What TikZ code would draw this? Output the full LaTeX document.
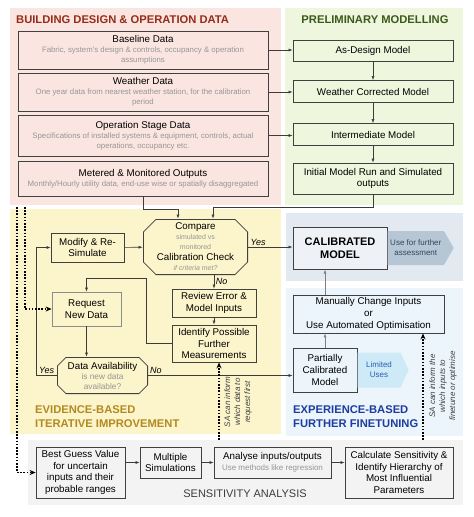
\documentclass[tikz,border=0pt]{standalone}
\usepackage{fontspec}
\setmainfont{Liberation Sans}
\usepackage{xcolor}
\usetikzlibrary{arrows.meta,shapes.symbols}

\definecolor{pinkbg}{RGB}{251,229,225}
\definecolor{greenbg}{RGB}{238,246,222}
\definecolor{yellowbg}{RGB}{252,244,203}
\definecolor{slatebg}{RGB}{226,233,240}
\definecolor{lightbluebg}{RGB}{235,245,251}
\definecolor{graybg}{RGB}{243,243,243}
\definecolor{calibfill}{RGB}{238,242,246}
\definecolor{usefill}{RGB}{182,198,213}
\definecolor{usetext}{RGB}{50,70,95}
\definecolor{limitedfill}{RGB}{206,234,246}
\definecolor{limitedtext}{RGB}{40,95,185}
\definecolor{subgray}{RGB}{150,150,150}
\definecolor{boxline}{RGB}{64,64,64}
\definecolor{arrowline}{RGB}{60,60,60}
\definecolor{bdred}{RGB}{150,45,25}
\definecolor{pmgreen}{RGB}{60,90,25}
\definecolor{ebgold}{RGB}{178,138,32}
\definecolor{exblue}{RGB}{30,60,160}
\definecolor{satitle}{RGB}{60,60,60}

\newcommand{\boxtitle}[1]{{\fontsize{9.8}{11.5}\selectfont #1}}
\newcommand{\subtxt}[1]{{\color{subgray}#1}}

\begin{document}
\begin{tikzpicture}[x=1pt,y=-1pt]
		\tikzstyle{box}=[draw=boxline, line width=0.8pt, align=center, inner sep=1pt, font=\fontsize{9.8}{11.5}\selectfont]
		\tikzstyle{data_box}=[box, fill=pinkbg, minimum width=250, font=\fontsize{7.8}{10}\selectfont]
		\tikzstyle{model_box}=[box, fill=greenbg, minimum width=160]
		\tikzstyle{step_box}=[box, fill=yellowbg]
		\tikzset{check_box/.style={step_box, draw=none, fill=none,
			path picture={\draw[fill=yellowbg, draw=boxline, line width=0.8pt]
				([xshift=#1, yshift=-0.4pt]path picture bounding box.north west) -- ([xshift=-#1, yshift=-0.4pt]path picture bounding box.north east)
				-- ([xshift=-0.4pt, yshift=-#1]path picture bounding box.north east) -- ([xshift=-0.4pt, yshift=#1]path picture bounding box.south east)
				-- ([xshift=-#1, yshift=0.4pt]path picture bounding box.south east) -- ([xshift=#1, yshift=0.4pt]path picture bounding box.south west)
				-- ([xshift=0.4pt, yshift=#1]path picture bounding box.south west) -- ([xshift=0.4pt, yshift=-#1]path picture bounding box.north west) -- cycle;}}}
		\tikzstyle{fine_box}=[box, fill=lightbluebg, font=\fontsize{9.8}{12}\selectfont]
		\tikzstyle{sa_box}=[box, fill=graybg, font=\fontsize{9.8}{11.5}\selectfont]
		\tikzstyle{use_arrow}=[signal, signal to=east, inner sep=0pt, align=center, font=\fontsize{8}{10}\selectfont]
		\tikzstyle{title_text}=[inner sep=0pt, align=left, font=\fontsize{11.2}{14}\selectfont\bfseries]
		\tikzstyle{sa_note}=[inner sep=0pt, align=center, rotate=90, text=boxline, font=\fontsize{8}{10}\selectfont\itshape]
		\tikzstyle{arr}=[draw=arrowline, line width=0.6pt, -{Latex[length=4pt,width=3pt]}]
		\tikzstyle{sa_link}=[line width=1.6pt, dash pattern=on 1.6pt off 1.6pt, -{Stealth[length=6pt,width=5pt]}]
		\tikzstyle{yes_no}=[inner sep=1.5pt, font=\fontsize{9}{10}\selectfont\itshape]

		\useasboundingbox (0,0) rectangle (474,517);

		\fill[pinkbg] (10,8) rectangle (281,205);
		\fill[greenbg] (285,8) rectangle (463,205);
		\fill[yellowbg] (10,209) rectangle (281,434);
		\fill[slatebg] (286,213) rectangle (463,281);
		\fill[lightbluebg] (286,288) rectangle (463,436);
		\fill[graybg] (28,440) rectangle (463,505);

		\node[title_text, text=bdred, anchor=west] (bd_title) at (16,20) {BUILDING DESIGN \& OPERATION DATA};
		\node[title_text, text=pmgreen] (pm_title) at (375,20) {PRELIMINARY MODELLING};
		\node[title_text, text=ebgold, anchor=west] (eb_title) at (35,417) {EVIDENCE-BASED\\ITERATIVE IMPROVEMENT};
		\node[title_text, text=exblue, anchor=west] (ex_title) at (293,417) {EXPERIENCE-BASED\\FURTHER FINETUNING};
		\node[text=satitle, font=\fontsize{11}{13}\selectfont] (sa_title) at (245,494) {SENSITIVITY ANALYSIS};

		\node[data_box, minimum height=38] (baseline) at (143,50) {\boxtitle{Baseline Data}\\\subtxt{Fabric, system's design \& controls, occupancy \& operation}\\\subtxt{assumptions}};
		\node[data_box, minimum height=38] (weather) at (143,92) {\boxtitle{Weather Data}\\\subtxt{One year data from nearest weather station, for the calibration}\\\subtxt{period}};
		\node[data_box, minimum height=41] (operation) at (143,135.5) {\boxtitle{Operation Stage Data}\\\subtxt{Specifications of installed systems \& equipment, controls, actual}\\\subtxt{operations, occupancy etc.}};
		\node[data_box, minimum height=35] (metered) at (143,178.5) {\boxtitle{Metered \& Monitored Outputs}\\\subtxt{Monthly/Hourly utility data, end-use wise or spatially disaggregated}};

		\node[model_box, minimum height=21] (asdesign) at (373,50.5) {As-Design Model};
		\node[model_box, minimum height=22] (weathercorr) at (373,91.5) {Weather Corrected Model};
		\node[model_box, minimum height=22] (intermediate) at (373,134.5) {Intermediate Model};
		\node[model_box, minimum height=31] (initial) at (373,178.5) {Initial Model Run and Simulated\\outputs};

		\node[check_box=13pt, minimum width=105, minimum height=56, font=\fontsize{7}{10}\selectfont] (compare) at (195.5,247) {\boxtitle{Compare}\\\subtxt{simulated vs}\\\subtxt{monitored}\\[1pt]\boxtitle{Calibration Check}\\\subtxt{\itshape if criteria met?}};
		\node[step_box, minimum width=73, minimum height=29] (modify) at (87.5,247.5) {Modify \& Re-\\Simulate};
		\node[step_box, minimum width=84, minimum height=28] (review) at (214,303) {Review Error \&\\Model Inputs};
		\node[step_box, minimum width=84, minimum height=37] (identify) at (214,343.5) {Identify Possible\\Further\\Measurements};
		\node[step_box, draw=boxline!60, minimum width=69, minimum height=34] (request) at (86.5,309) {Request\\New Data};
		\node[check_box=9pt, minimum width=91, minimum height=37, font=\fontsize{8.3}{10}\selectfont] (datavail) at (102.5,375.5) {\boxtitle{Data Availability}\\\subtxt{is new data}\\\subtxt{available?}};

		\node[box, fill=calibfill, line width=1pt, minimum width=94, minimum height=42, font=\fontsize{11}{13}\selectfont\bfseries] (calibrated) at (340,248) {CALIBRATED\\MODEL};
		\node[use_arrow, fill=usefill, text=usetext, minimum width=66, minimum height=34, signal pointer angle=120, anchor=west] (further) at (calibrated.east) {Use for further\\assessment};
		\node[fine_box, minimum width=151, minimum height=38] (manually) at (368.5,314) {Manually Change Inputs\\or\\Use Automated Optimisation};
		\node[fine_box, minimum width=64, minimum height=44] (partial) at (325,370) {Partially\\Calibrated\\Model};
		\node[use_arrow, fill=limitedfill, text=limitedtext, minimum width=51, minimum height=35, signal pointer angle=130, anchor=west] (limited) at (partial.east) {Limited\\Uses};

		\node[sa_box, minimum width=89, minimum height=51] (bestguess) at (80.5,472.5) {Best Guess Value\\for uncertain\\inputs and their\\probable ranges};
		\node[sa_box, minimum width=61, minimum height=31] (multiple) at (170.5,462.5) {Multiple\\Simulations};
		\node[sa_box, minimum width=117, minimum height=31] (analyse) at (272.5,462.5) {Analyse inputs/outputs\\\subtxt{\fontsize{8}{9}\selectfont Use methods like regression}};
		\node[sa_box, minimum width=108, minimum height=51] (calculate) at (399,472.5) {Calculate Sensitivity \&\\Identify Hierarchy of\\Most Influential\\Parameters};

		\node[sa_note] (note_data) at (238,402) {SA can inform\\which data to\\request first};
		\node[sa_note] (note_inputs) at (443,386) {SA can inform the\\which inputs to\\finetune or optimise};

		\coordinate (sa_top_data) at (219,440);
		\coordinate (sa_top_inputs) at (423,440);
		\coordinate (left_outer) at (17,207);
		\coordinate (left_inner) at (25,207);
		\coordinate (loop_corner) at (146,278);

		\draw[arr] (baseline.east) -- (baseline.east -| asdesign.west);
		\draw[arr] (weather.east) -- (weather.east -| weathercorr.west);
		\draw[arr] (operation.east) -- (operation.east -| intermediate.west);
		\draw[arr] (asdesign) -- (weathercorr);
		\draw[arr] (weathercorr) -- (intermediate);
		\draw[arr] (intermediate) -- (initial);

		\draw[arr] (initial.south) -- ++(0,13) -| ([xshift=17.5pt]compare.north);
		\draw[arr] (metered.south) -- ++(0,13) -| ([xshift=-17.5pt]compare.north);
		\draw[arr] (modify) -- (compare);
		\draw[arr] (compare.east) -- node[yes_no, above, pos=0.22] {Yes} (compare.east -| calibrated.west);
		\draw[arr] (review.north |- compare.south) -- node[yes_no, right, pos=0.45] {No} (review.north);
		\draw[arr] (review) -- (identify);
		\draw[arr] (identify.west) -| (loop_corner) -| (request.north);
		\draw[arr] (request.south) -- (request.south |- datavail.north);
		\draw[arr] (datavail.west) -- node[yes_no, above, pos=0.5] {Yes} ++(-20,0) |- (modify.west);
		\draw[arr] (datavail.east) -- node[yes_no, above right, pos=0] {No} (datavail.east -| partial.west);

		\draw[arr, draw=gray] (partial.north) -- (partial.north |- manually.south);
		\draw[arr, draw=gray] (manually.north -| partial.north) -- (partial.north |- calibrated.south);

		\draw[arr] (bestguess.east |- multiple.west) -- (multiple.west);
		\draw[arr] (multiple) -- (analyse);
		\draw[arr] (analyse.east) -- (analyse.east -| calculate.west);

		\draw[sa_link] (left_outer) |- (bestguess.west);
		\draw[sa_link] (left_inner) |- (request.west);
		\draw[sa_link] (sa_top_data) -- (sa_top_data |- identify.south);
		\draw[sa_link] (sa_top_inputs) -- (sa_top_inputs |- manually.south);

	\end{tikzpicture}
\end{document}
